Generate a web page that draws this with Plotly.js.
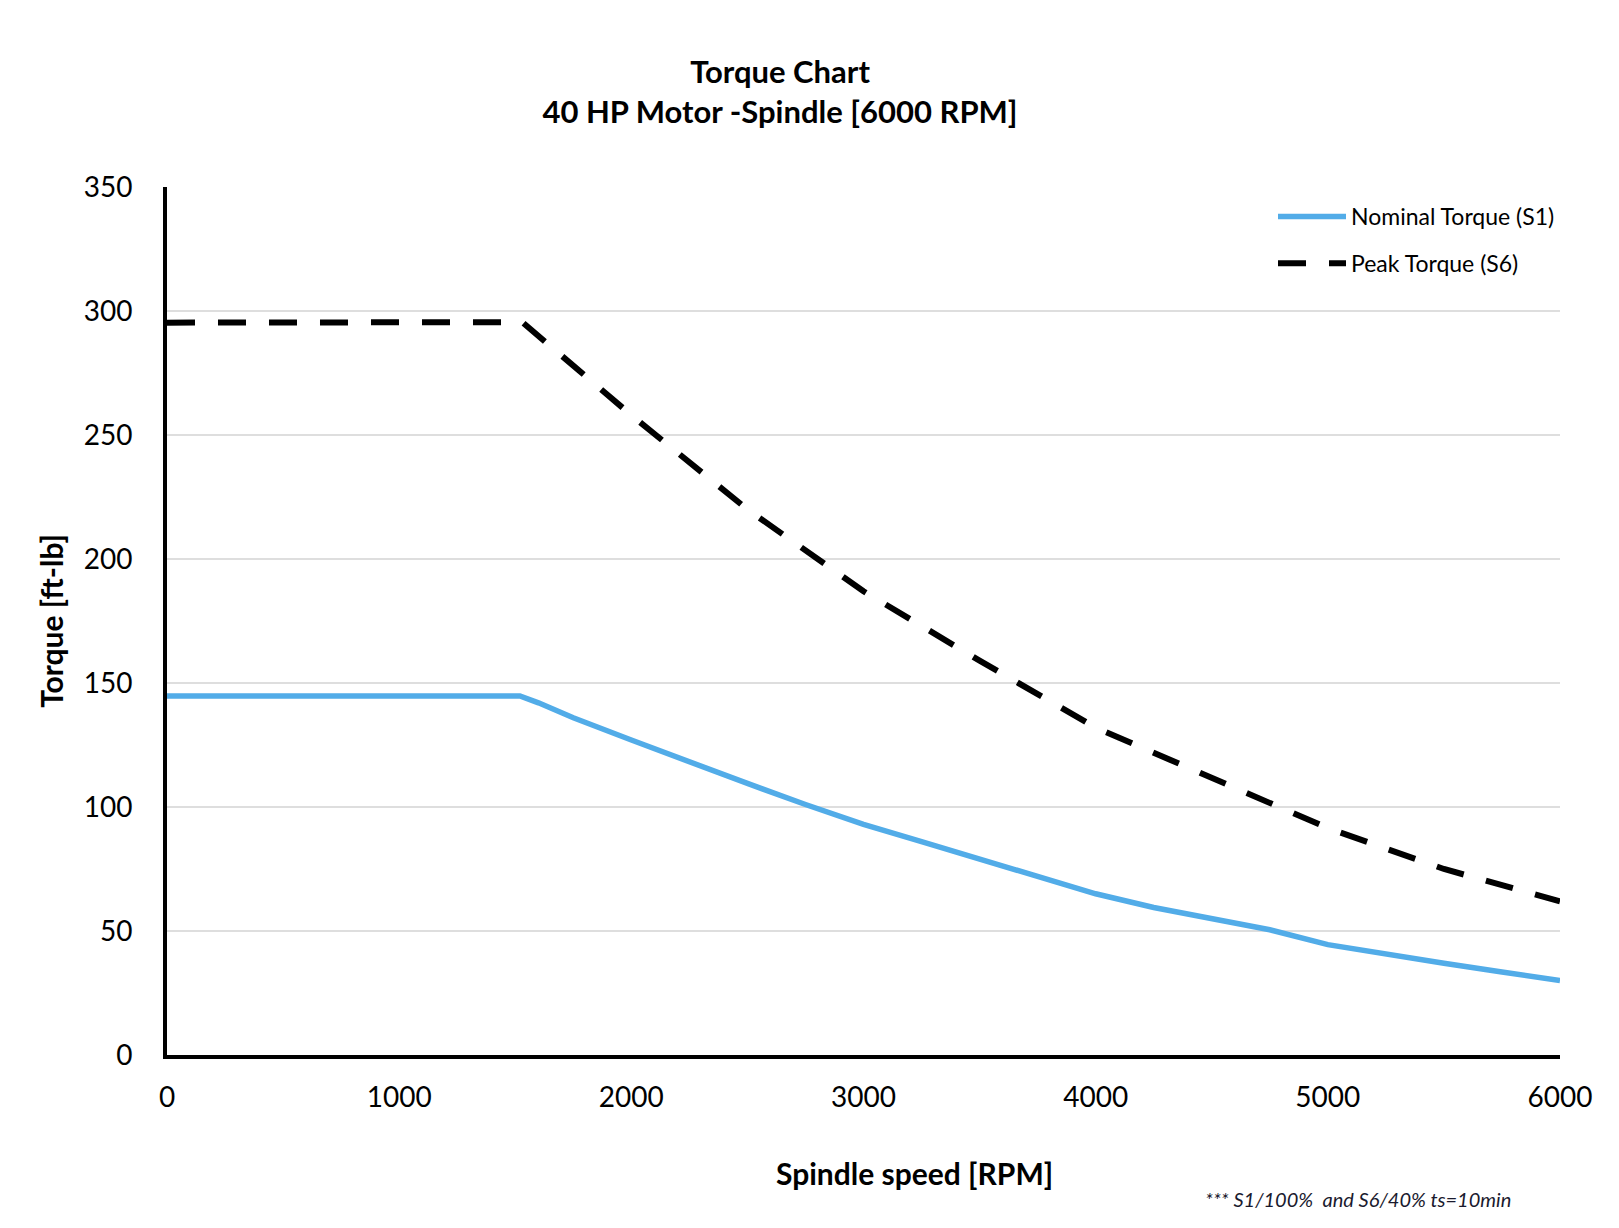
<!DOCTYPE html>
<html>
<head>
<meta charset="utf-8">
<script src="https://cdn.plot.ly/plotly-3.0.1.min.js"></script>
<style>html,body{margin:0;padding:0;background:#fff;}#chart{width:1619px;height:1228px;}</style>
</head>
<body>
<div id="chart"></div>
<script>
const nominalRpm = [0, 1000, 1250, 1520, 1600, 1750, 2000, 2250, 2500, 2750, 3000, 3250, 3500, 3750, 4000, 4250, 4500, 4750, 5000, 5250, 5500, 5750, 6000];
const nominalTorque = [144.8, 144.8, 145.0, 144.8, 142, 136, 127, 118, 109.5, 101, 93, 86, 79, 72, 65, 59.5, 55, 50.5, 44.5, 40.5, 37, 33.5, 30];
const peakRpm = [0, 1250, 1530, 2000, 2500, 3000, 3500, 4000, 4500, 5000, 5500, 6000];
const peakTorque = [295.3, 295.6, 295.5, 258, 220, 187, 159, 132, 112, 91.5, 75, 62];
const yTicks = [0, 50, 100, 150, 200, 250, 300, 350];
const xTicks = [0, 1000, 2000, 3000, 4000, 5000, 6000];

const FONT = 'Lato, "Open Sans", sans-serif';

const traces = [
  {x: nominalRpm, y: nominalTorque, type: 'scatter', mode: 'lines', name: 'Nominal Torque (S1)',
   legendgroup: 'a', line: {color: '#52ace8', width: 5.5}},
  {x: peakRpm, y: peakTorque, type: 'scatter', mode: 'lines', name: 'Peak Torque (S6)',
   legendgroup: 'b', line: {color: '#000', width: 6, dash: '28px,23px'}}
];

const layout = {
  width: 1619, height: 1228,
  paper_bgcolor: '#fff', plot_bgcolor: '#fff',
  margin: {l: 167, r: 59, t: 187, b: 173},
  font: {family: FONT, color: '#000'},
  title: {
    text: '<b>Torque Chart</b><br><b>40 HP Motor -Spindle [6000 RPM]</b>',
    font: {family: FONT, size: 31, color: '#000'},
    xref: 'container', x: 0.4818, xanchor: 'center',
    yref: 'container', y: 1 - 83/1228, yanchor: 'top'
  },
  xaxis: {
    range: [0, 6000], tickvals: xTicks, ticktext: xTicks.map(String),
    showgrid: false, zeroline: false,
    showline: true, linecolor: '#000', linewidth: 4,
    ticks: 'outside', ticklen: 14, tickcolor: 'rgba(0,0,0,0)',
    tickfont: {size: 28, family: FONT}
  },
  yaxis: {
    range: [0, 350], tickvals: yTicks, ticktext: yTicks.map(String),
    showgrid: true, gridcolor: '#dedede', gridwidth: 2,
    zeroline: false,
    showline: true, linecolor: '#000', linewidth: 4,
    ticks: 'outside', ticklen: 25, tickcolor: 'rgba(0,0,0,0)',
    tickfont: {size: 28, family: FONT},
    title: {text: '<b>Torque [ft-lb]</b>', font: {size: 30, family: FONT}, standoff: 12}
  },
  showlegend: true,
  legend: {
    x: (1273 - 167) / 1393, xanchor: 'left',
    y: 1 - (195 - 187) / 868, yanchor: 'top',
    bgcolor: 'rgba(0,0,0,0)', borderwidth: 0,
    font: {size: 23, family: FONT, color: '#000'},
    traceorder: 'grouped', tracegroupgap: 14, itemwidth: 68
  },
  annotations: [
    {
      text: '<b>Spindle speed [RPM]</b>',
      xref: 'paper', yref: 'paper',
      x: (914 - 167) / 1393, xanchor: 'center',
      y: (1055 - 1173) / 868, yanchor: 'middle',
      showarrow: false, font: {size: 30, family: FONT, color: '#000'}
    },
    {
      text: '<i>*** S1/100%  and S6/40% ts=10min</i>',
      xref: 'paper', yref: 'paper',
      x: (1513 - 167) / 1393, xanchor: 'right',
      y: (1055 - 1199) / 868, yanchor: 'middle',
      showarrow: false, font: {size: 20, family: FONT, color: '#1a1a2e'}
    }
  ]
};

Plotly.newPlot('chart', traces, layout, {displayModeBar: false, staticPlot: true});
</script>
</body>
</html>
